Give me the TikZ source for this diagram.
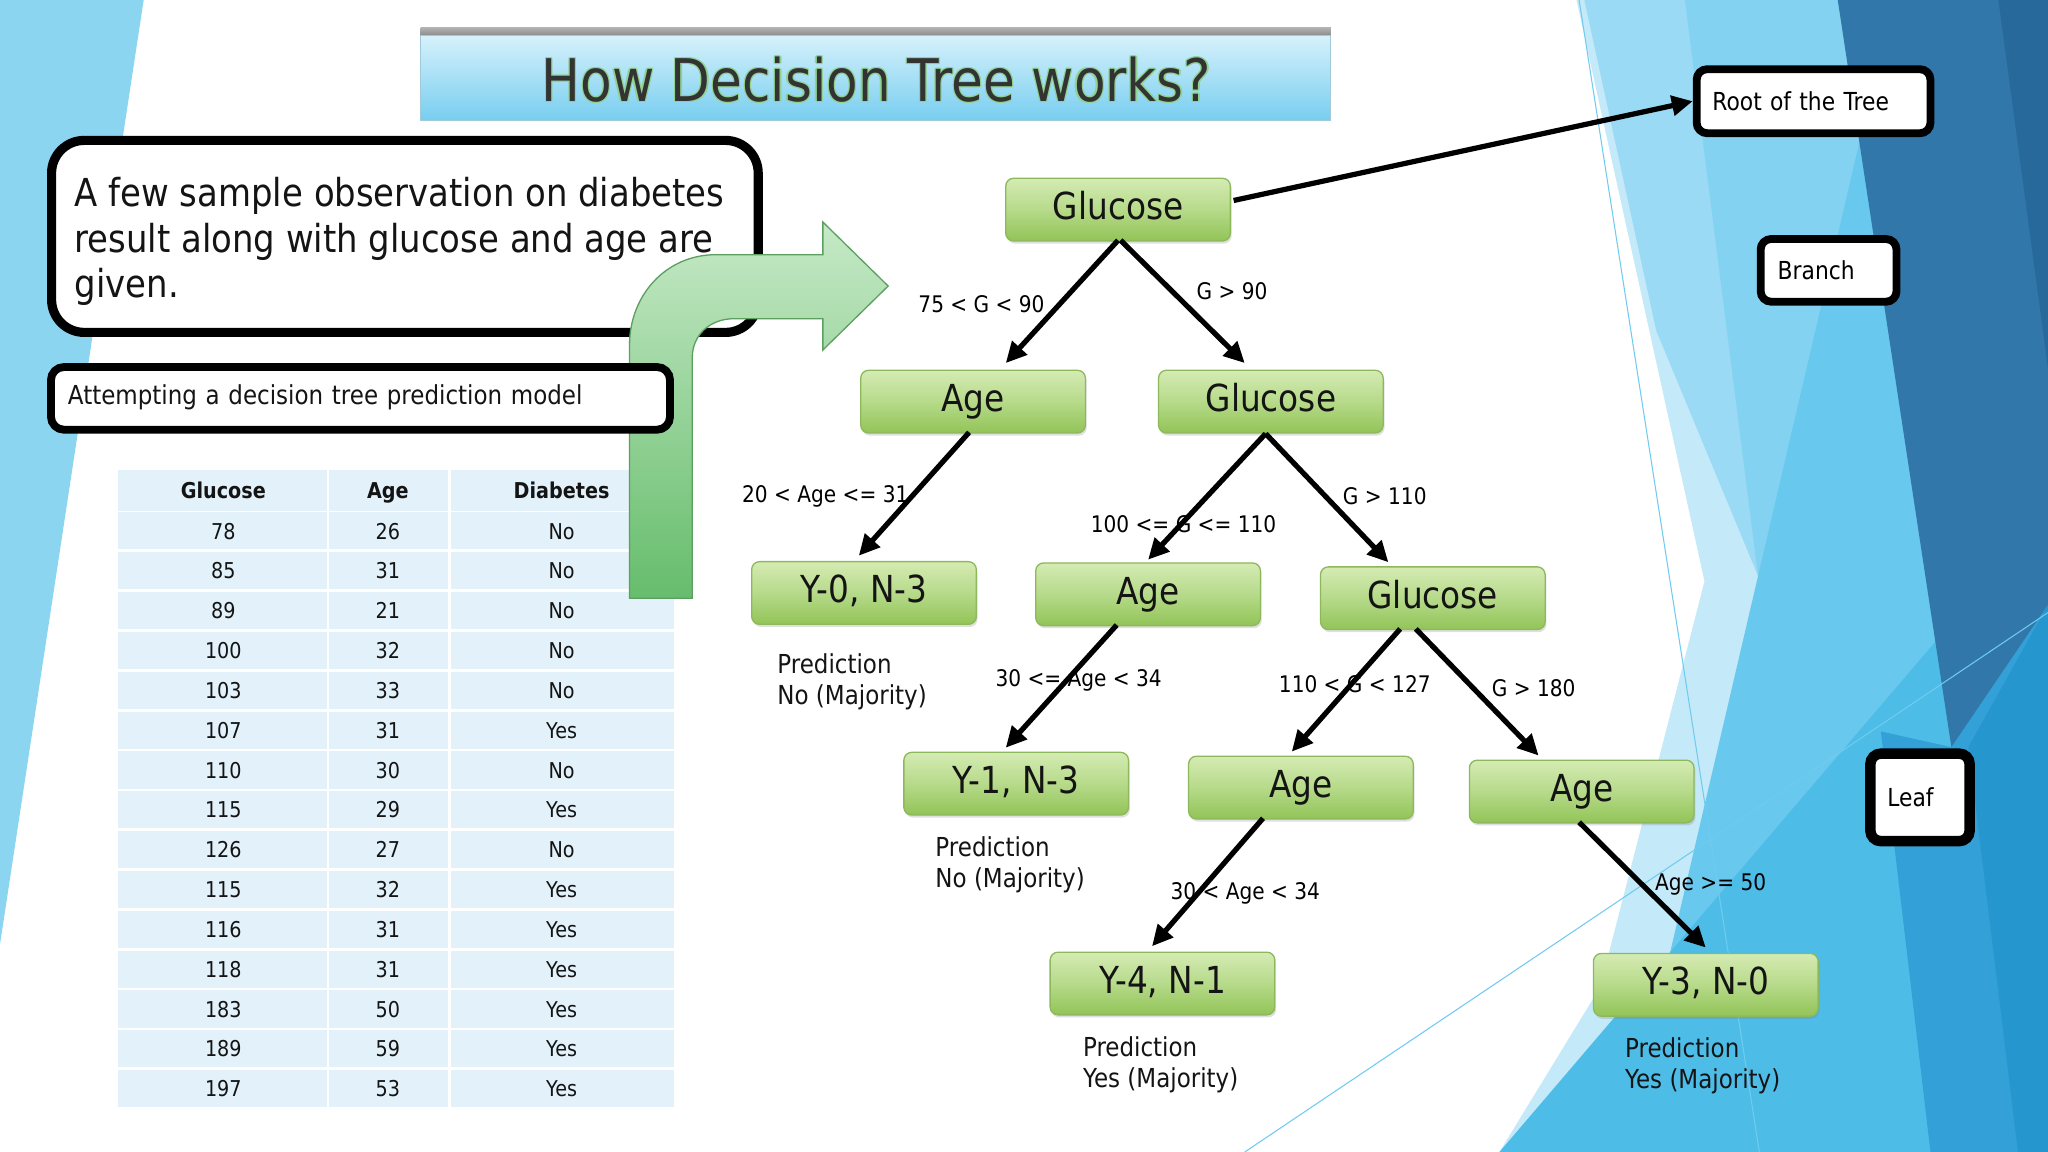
\documentclass[tikz,border=0pt]{standalone}
\usepackage{fontspec}
\setmainfont[FakeStretch=0.88]{DejaVu Sans}
\usetikzlibrary{arrows.meta,calc,shadows}
\definecolor{bgleft}{HTML}{8CD5F0}
\definecolor{bgP}{HTML}{C4E9F8}
\definecolor{bgQt}{HTML}{9ADAF4}
\definecolor{bgQ}{HTML}{84D2F1}
\definecolor{bgRa}{HTML}{68C8ED}
\definecolor{bgRb}{HTML}{4DBDE8}
\definecolor{bgS}{HTML}{33A1D7}
\definecolor{bgSb}{HTML}{2696CF}
\definecolor{bgDa}{HTML}{3277A9}
\definecolor{bgDb}{HTML}{28699C}
\definecolor{thinl}{HTML}{6FCBEF}
\definecolor{gtop}{HTML}{D5EBB3}
\definecolor{gmid}{HTML}{B6DA8A}
\definecolor{gbot}{HTML}{92C457}
\definecolor{gborder}{HTML}{8DB85B}
\definecolor{cellc}{HTML}{E3F2FA}
\definecolor{arrtop}{HTML}{C6E9C7}
\definecolor{arrbot}{HTML}{66BD6C}
\definecolor{arrborder}{HTML}{5C9F60}
\definecolor{ttop}{HTML}{D6F1FB}
\definecolor{tbot}{HTML}{78CEF0}
\definecolor{tglow}{HTML}{8FD291}
\tikzset{
  gbox/.style={rounded corners=6pt, minimum width=172pt, minimum height=48pt,
    draw=gborder, line width=1pt, top color=gtop, bottom color=gbot, middle color=gmid,
    drop shadow={opacity=0.25, shadow xshift=1pt, shadow yshift=-2pt},
    font=\fontsize{28.5}{32}\selectfont, text=black!92, inner sep=0pt,
    text height=20.5pt, text depth=5.5pt},
  edgearrow/.style={line width=4pt, black, -{Triangle[length=16pt,width=15pt]}},
  elab/.style={anchor=west, inner sep=0pt, font=\fontsize{17.5}{20}\selectfont, text=black},
  pred/.style={anchor=west, inner sep=0pt, align=left, font=\fontsize{20}{24}\selectfont, text=black!92},
  lblbox/.style={draw=black, fill=white, line width=6pt, rounded corners=8pt, align=left,
    inner ysep=0pt, font=\fontsize{19}{22}\selectfont, anchor=west},
  cell/.style={inner sep=0pt, anchor=base, font=\fontsize{16.7}{19}\selectfont, text=black!92},
  hcell/.style={inner sep=0pt, anchor=base, font=\fontsize{16.7}{19}\selectfont\bfseries, text=black!92},
}
\begin{document}
\begin{tikzpicture}[x=1pt,y=-1pt]
\useasboundingbox (0,0) rectangle (1568,882);
\fill[white] (0,0) rectangle (1568,882);
% background facets
\fill[bgleft] (0,0) -- (110,0) -- (0,723) -- cycle;
\fill[bgP] (1207,0) -- (1568,0) -- (1568,882) -- (1148,882) -- (1225,756) -- (1305,445) -- cycle;
\fill[bgQt] (1213,0) -- (1568,0) -- (1568,882) -- (1420,882) -- (1346,441) -- (1268,253) -- cycle;
\fill[bgQ] (1290,0) -- (1568,0) -- (1568,882) -- (1420,882) -- (1346,441) -- cycle;
\fill[bgRa] (1449,0) -- (1568,0) -- (1568,882) -- (1243,882) -- cycle;
\fill[bgRb] (1148,882) -- (1482,491) -- (1568,390) -- (1568,882) -- cycle;
\fill[bgS] (1440,560) -- (1494,572) -- (1568,463) -- (1568,882) -- (1478,882) -- cycle;
\fill[bgSb] (1507,572) -- (1568,463) -- (1568,882) -- (1545,882) -- cycle;
\fill[bgDa] (1407,0) -- (1568,0) -- (1568,463) -- (1494,572) -- cycle;
\fill[bgDb] (1530,0) -- (1568,0) -- (1568,282) -- cycle;
\draw[thinl, line width=0.8pt] (1209,0) -- (1347,882);
\draw[thinl, line width=0.8pt] (953,882) -- (1568,469);

% title
\fill[top color=black!30, bottom color=black!45] (322,21) rectangle (1019,27);
\node[minimum width=697pt, minimum height=65pt, inner sep=0pt, draw=tbot!80!black!60, line width=0.8pt,
  top color=ttop, bottom color=tbot] (titlebox) at (670.5,59.5) {};
\foreach \dx/\dy [count=\k] in {1/0,-1/0,0/1,0/-1,0.8/0.8,0.8/-0.8,-0.8/0.8,-0.8/-0.8}{
  \node[inner sep=0pt, text=tglow, font=\fontsize{45}{50}\selectfont] (tg\k) at ($(671,61)+(\dx pt,\dy pt)$) {How Decision Tree works?};
}
\node[inner sep=0pt, text=black!80, font=\fontsize{45}{50}\selectfont] (title) at (671,61) {How Decision Tree works?};

% callout 1
\node[draw=black, fill=white, line width=7pt, rounded corners=25pt, anchor=north west,
  minimum width=541pt, minimum height=147pt, inner sep=0pt] (note) at (36,104) {};
\node[anchor=north west, inner sep=0pt, align=left,
  font=\fontsize{29.5}{35}\selectfont, text=black!92] (notetext) at (57,135.5)
  {A few sample observation on diabetes\\result along with glucose and age are\\given.};

% table
\fill[cellc] (90,360) rectangle (250,391);
\fill[cellc] (252,360) rectangle (343,391);
\fill[cellc] (345,360) rectangle (516,391);
\node[hcell] (hg) at (171,382) {Glucose};
\node[hcell] (ha) at (297,382) {Age};
\node[hcell] (hd) at (430,382) {Diabetes};
\foreach \g/\a/\d [count=\i] in {78/26/No,85/31/No,89/21/No,100/32/No,103/33/No,107/31/Yes,110/30/No,115/29/Yes,126/27/No,115/32/Yes,116/31/Yes,118/31/Yes,183/50/Yes,189/59/Yes,197/53/Yes}{
  \pgfmathsetmacro{\yc}{376+\i*30.5}
  \pgfmathsetmacro{\ya}{\yc-14.2}
  \pgfmathsetmacro{\yb}{\yc+14.2}
  \pgfmathsetmacro{\ybase}{\yc+6.2}
  \fill[cellc] (90,\ya) rectangle (250,\yb);
  \fill[cellc] (252,\ya) rectangle (343,\yb);
  \fill[cellc] (345,\ya) rectangle (516,\yb);
  \node[cell] (g\i) at (171,\ybase) {\g};
  \node[cell] (a\i) at (297,\ybase) {\a};
  \node[cell] (d\i) at (430,\ybase) {\d};
}

% bent green arrow
\path[draw=arrborder, line width=1pt, top color=arrtop, bottom color=arrbot]
  (482,458) -- (482,264) .. controls (482,226) and (510,195) .. (548,195) -- (630,195)
  -- (630,170) -- (680,219) -- (630,268) -- (630,244) -- (562,244)
  .. controls (544,244) and (530,256) .. (530,274) -- (530,458) -- cycle;

% callout 2
\node[draw=black, fill=white, line width=6pt, rounded corners=10pt, anchor=north west,
  text width=448pt, inner xsep=13pt, inner ysep=0pt, minimum height=48pt, align=left,
  font=\fontsize{20}{24}\selectfont, text=black!92] (attempt) at (36,278)
  {\strut Attempting a decision tree prediction model};

% tree nodes
\node[gbox] (root) at (856,160.5) {Glucose};
\node[gbox] (age1) at (745,307.5) {Age};
\node[gbox] (gluc1) at (973,307.5) {Glucose};
\node[gbox] (y0) at (661.5,454) {Y-0, N-3};
\node[gbox] (age2) at (879,455) {Age};
\node[gbox] (gluc2) at (1097,458) {Glucose};
\node[gbox] (y1) at (778,600) {Y-1, N-3};
\node[gbox] (age3a) at (996,603) {Age};
\node[gbox] (age3b) at (1211,606) {Age};
\node[gbox] (y4) at (890,753) {Y-4, N-1};
\node[gbox] (y3) at (1306,754) {Y-3, N-0};

% edge labels
\node[elab] (l1) at (703,233) {75 < G < 90};
\node[elab] (l2) at (916,223) {G > 90};
\node[elab] (l3) at (568,380) {20 < Age <= 31};
\node[elab] (l4) at (835,401) {100 <= G <= 110};
\node[elab] (l5) at (1028,380) {G > 110};
\node[elab] (l6) at (762,521) {30 <= Age < 34};
\node[elab] (l7) at (979,524) {110 < G < 127};
\node[elab] (l8) at (1142,527) {G > 180};
\node[elab] (l9) at (896,684) {30 < Age < 34};
\node[elab] (l10) at (1267,677) {Age >= 50};

% predictions
\node[pred] (p0) at (595,522) {Prediction\\No (Majority)};
\node[pred] (p1) at (716,662) {Prediction\\No (Majority)};
\node[pred] (p4) at (829,815) {Prediction\\Yes (Majority)};
\node[pred] (p3) at (1244,816) {Prediction\\Yes (Majority)};

% legend boxes
\node[lblbox, text width=155pt, inner xsep=12pt, minimum height=49pt] (rootlbl) at (1296,77.5) {Root of the Tree};
\node[lblbox, text width=78pt, inner xsep=13pt, minimum height=48pt] (branchlbl) at (1345,207) {Branch};
\node[lblbox, text width=50pt, inner xsep=13pt, minimum height=67pt, line width=8pt] (leaflbl) at (1428,610.5) {Leaf};

% edges
\draw[edgearrow] ($(root.south)+(0pt,1pt)$) -- ($(age1.north)+(25pt,5pt)$);
\draw[edgearrow] ($(root.south)+(2pt,1pt)$) -- ($(gluc1.north)+(-20pt,5pt)$);
\draw[edgearrow] ($(age1.south)+(-3pt,1pt)$) -- ($(y0.north)+(-4pt,4pt)$);
\draw[edgearrow] ($(gluc1.south)+(-4pt,0pt)$) -- ($(age2.north)+(0pt,2pt)$);
\draw[edgearrow] ($(gluc1.south)+(-4pt,0pt)$) -- ($(gluc2.north)+(-34pt,3pt)$);
\draw[edgearrow] ($(age2.south)+(-24pt,1pt)$) -- ($(y1.north)+(-8pt,3pt)$);
\draw[edgearrow] ($(gluc2.south)+(-25pt,1pt)$) -- ($(age3a.north)+(-7pt,3pt)$);
\draw[edgearrow] ($(gluc2.south)+(-13pt,1pt)$) -- ($(age3b.north)+(-33pt,3pt)$);
\draw[edgearrow] ($(age3a.south)+(-29pt,1pt)$) -- ($(y4.north)+(-8pt,4pt)$);
\draw[edgearrow] ($(age3b.south)+(-2pt,1pt)$) -- ($(y3.north)+(0pt,4pt)$);
\draw[edgearrow] ($(root.east)+(2pt,7pt)$) -- (rootlbl.west);
\end{tikzpicture}
\end{document}
